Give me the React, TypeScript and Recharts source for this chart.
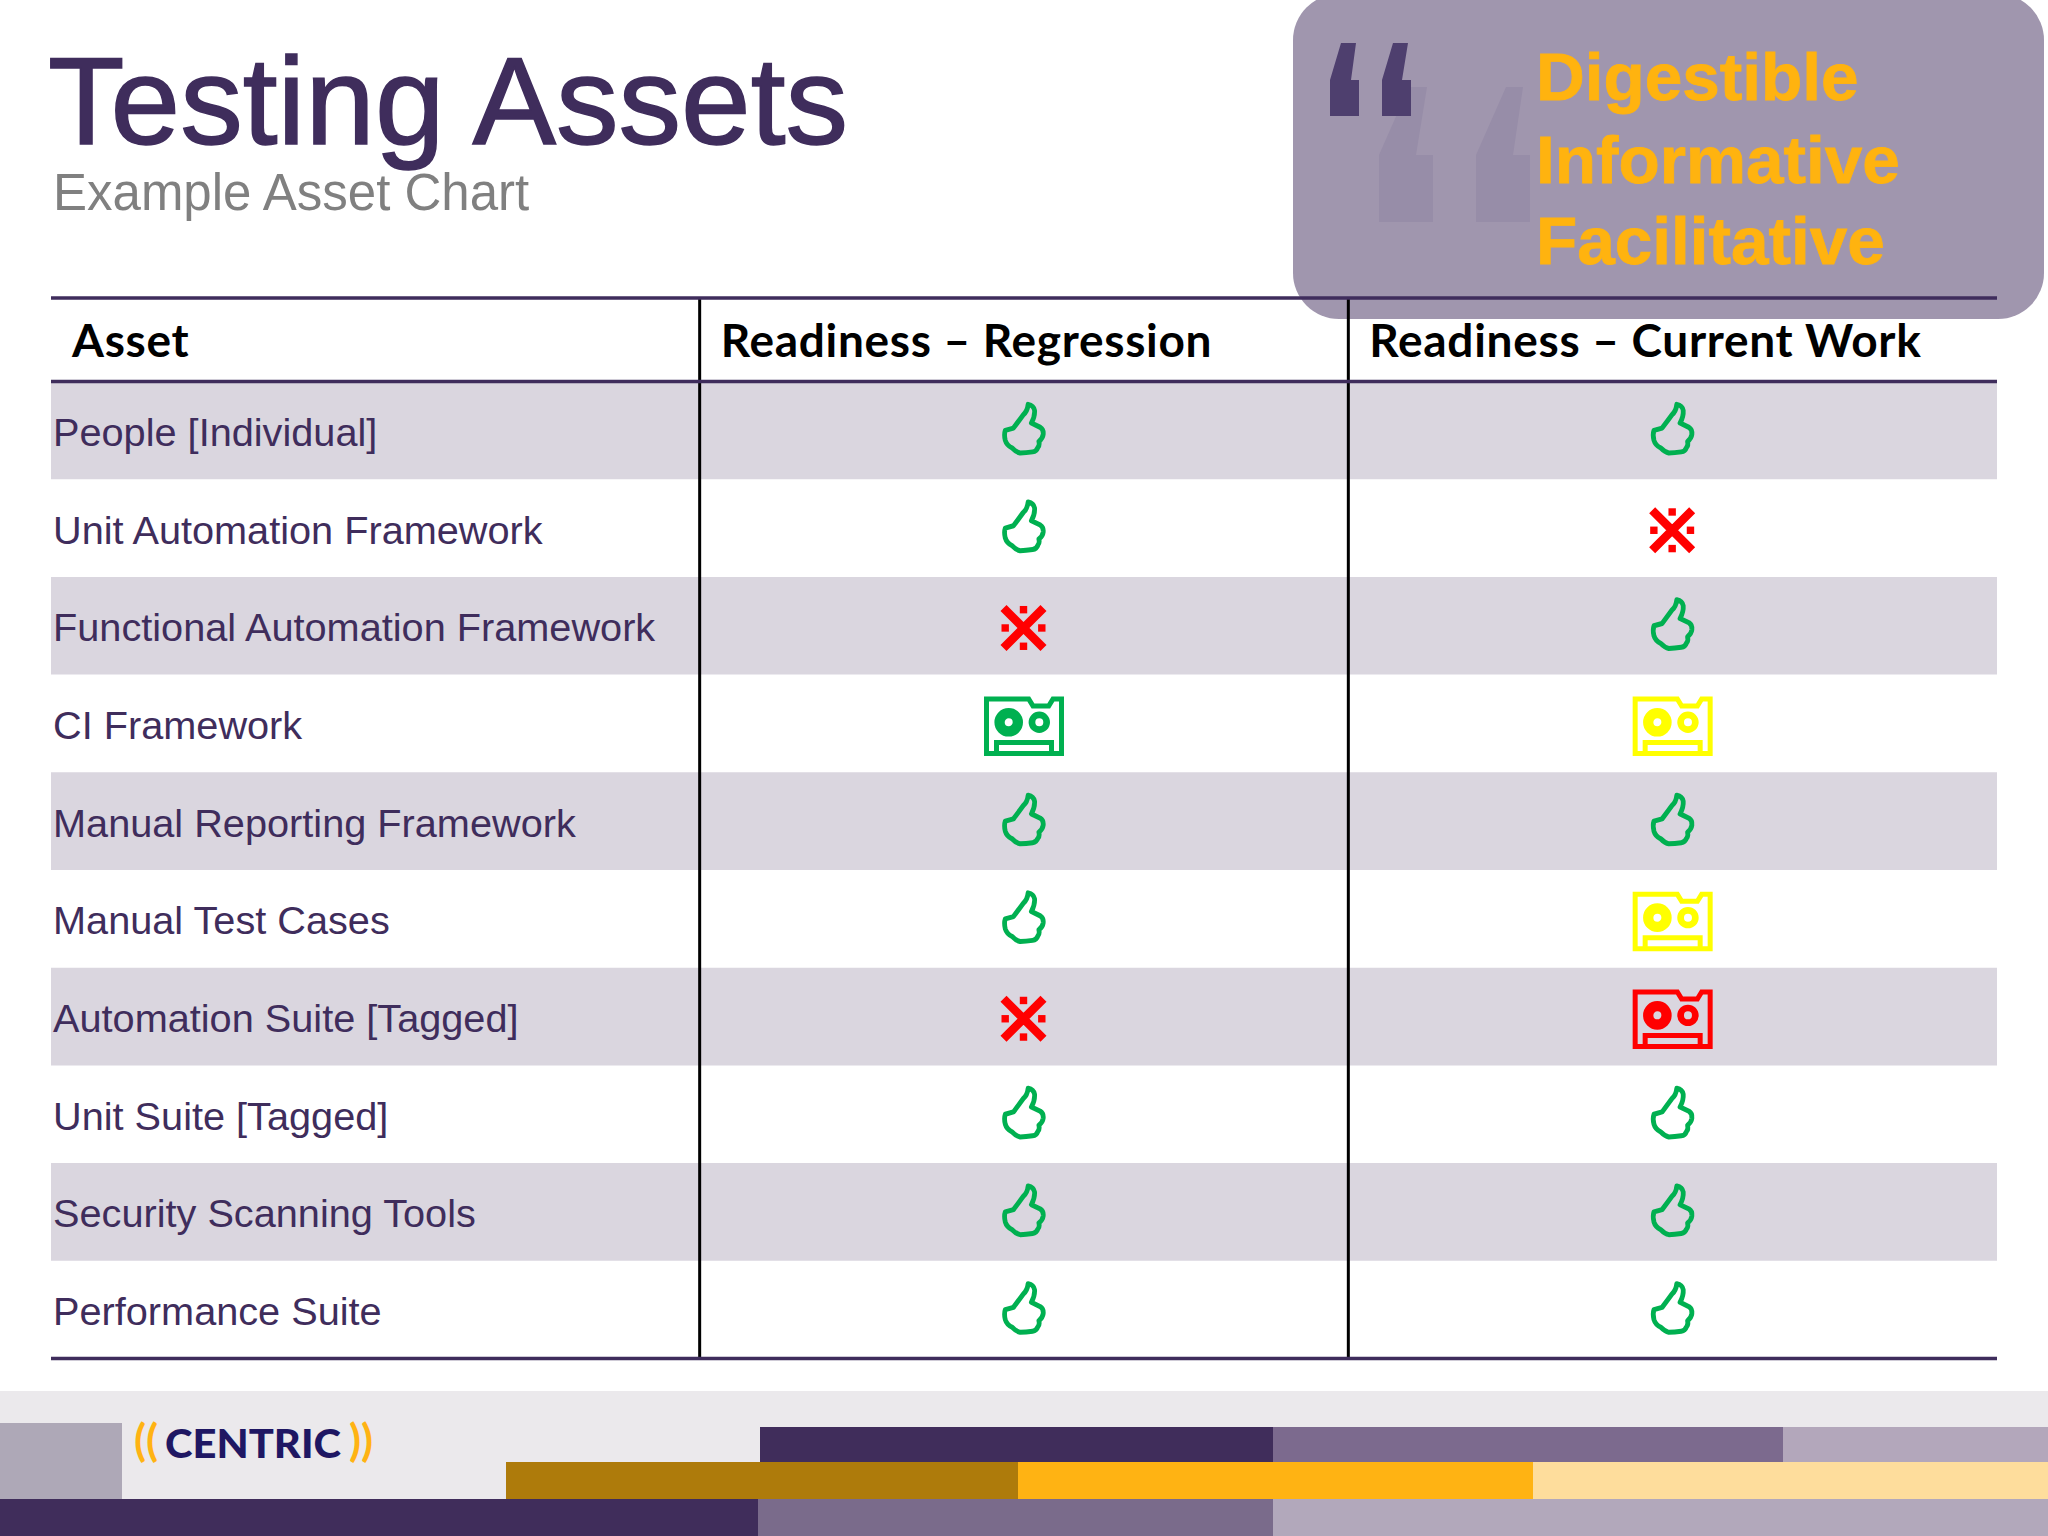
import React from "react";
import { ScatterChart, Scatter, XAxis, YAxis, ReferenceArea, ReferenceLine } from "recharts";

const assets = [
  "People [Individual]",
  "Unit Automation Framework",
  "Functional Automation Framework",
  "CI Framework",
  "Manual Reporting Framework",
  "Manual Test Cases",
  "Automation Suite [Tagged]",
  "Unit Suite [Tagged]",
  "Security Scanning Tools",
  "Performance Suite",
];
const columns = ["Asset", "Readiness – Regression", "Readiness – Current Work"];
const regression = ["up", "up", "x", "tapeGreen", "up", "up", "x", "up", "up", "up"];
const current = ["up", "x", "up", "tapeYellow", "up", "tapeYellow", "tapeRed", "up", "up", "up"];
const callout = ["Digestible", "Informative", "Facilitative"];

const rowTicks = assets.map((_, i) => i + 0.5);
const columnTicks = columns.map((_, i) => i);
const stripeRows = assets.map((_, i) => i).filter((i) => i % 2 === 0);
const regressionPoints = regression.map((status, i) => ({ x: 1.5, y: i + 0.5, status }));
const currentPoints = current.map((status, i) => ({ x: 2.5, y: i + 0.5, status }));

const PURPLE = "#3f2d5c";
const GREEN = "#00b050";
const RED = "#ff0000";
const YELLOW = "#ffff00";
const SANS = "'Liberation Sans', Arial, sans-serif";
const HEADER_TOP = -0.855;

const Thumb = ({ cx, cy }: { cx: number; cy: number }) => (
  <path
    transform={`translate(${cx},${cy + 1}) scale(0.96,1)`}
    d="M4.3,-27 Q10,-26 11,-21 Q11.5,-15 7.7,-8.3 L17,-4 Q20.5,-2 20,3 Q19.5,7 15.5,10 Q16.5,14 14.5,16 Q13,20 9,20.5 Q2,21.5 -4,21.7 Q-8,21 -12.3,16.7 Q-18,14 -19.5,9 Q-21,3 -19.5,-1 L-11,-3.3 Q-5,-11 -0.7,-16.7 Q3.5,-20 4.3,-27 Z"
    fill="none"
    stroke={GREEN}
    strokeWidth={5}
    strokeLinejoin="round"
  />
);

const Blocked = ({ cx, cy }: { cx: number; cy: number }) => (
  <g transform={`translate(${cx - 0.5},${cy + 2.2})`} fill={RED}>
    <path d="M-20,-20 L20,20 M20,-20 L-20,20" stroke={RED} strokeWidth={8.5} strokeLinecap="butt" />
    <rect x={-3.7} y={-22} width={7.4} height={7.4} />
    <rect x={-3.7} y={14.6} width={7.4} height={7.4} />
    <rect x={-22} y={-3.7} width={7.4} height={7.4} />
    <rect x={14.6} y={-3.7} width={7.4} height={7.4} />
  </g>
);

const Tape = ({ cx, cy, color }: { cx: number; cy: number; color: string }) => (
  <g transform={`translate(${cx},${cy + 2.5})`} fill="none" stroke={color} strokeWidth={5}>
    <path d="M-37.5,-27 H4.7 L9,-20 H24.7 L29,-27 H37.5 V27.5 H-37.5 Z" />
    <path d="M-27.5,27.5 V16.5 H27.5 V27.5" />
    <circle cx={-15.3} cy={-3.7} r={9.15} strokeWidth={10.3} />
    <circle cx={15.3} cy={-3.7} r={7.35} strokeWidth={6.7} />
  </g>
);

const StatusMark = (props: any) => {
  const { cx, cy, payload } = props;
  switch (payload.status) {
    case "up":
      return <Thumb cx={cx} cy={cy} />;
    case "x":
      return <Blocked cx={cx} cy={cy} />;
    case "tapeGreen":
      return <Tape cx={cx} cy={cy} color={GREEN} />;
    case "tapeYellow":
      return <Tape cx={cx} cy={cy} color={YELLOW} />;
    default:
      return <Tape cx={cx} cy={cy} color={RED} />;
  }
};

const RowTick = (props: any) => {
  const { y, payload } = props;
  return (
    <text x={53} y={y + 15.5} fontFamily={SANS} fontSize={39.7} fill={PURPLE} textAnchor="start">
      {assets[Math.floor(payload.value)]}
    </text>
  );
};

const ColumnTick = (props: any) => {
  const { x, payload } = props;
  return (
    <text x={x + 21} y={357} fontFamily="Lato, sans-serif" fontWeight={700} fontSize={46} letterSpacing={0.7} fill="#000" textAnchor="start">
      {columns[payload.value]}
    </text>
  );
};

const Backdrop = () => (
  <svg width={2048} height={1536} style={{ position: "absolute", left: 0, top: 0 }}>
    <text x={48} y={144} fontFamily={SANS} fontSize={124} fill={PURPLE} stroke={PURPLE} strokeWidth={1.5} textLength={800} lengthAdjust="spacingAndGlyphs">
      Testing Assets
    </text>
    <text x={53} y={210} fontFamily={SANS} fontSize={51} fill="#808080">
      Example Asset Chart
    </text>

    <rect x={1293} y={-6} width={751} height={325} rx={46} fill="#a096ae" />
    <g fill="#978da8">
      <path d="M1409,87 H1427 L1416,155 H1433 V222 H1379 V155 Z" />
      <path d="M1506,87 H1523 L1513,155 H1530 V222 H1476 V155 Z" />
    </g>
    <g fill="#4e3f6e">
      <path d="M1341,43 H1356 L1351,80 H1359 V116 H1330 V80 Z" />
      <path d="M1393,43 H1408 L1402,80 H1411 V116 H1382 V80 Z" />
    </g>
    {callout.map((line, i) => (
      <text key={line} x={1536} y={[100, 183, 264][i]} fontFamily={SANS} fontWeight={700} fontSize={67.5} fill="#ffb30f" stroke="#ffb30f" strokeWidth={0.8}>
        {line}
      </text>
    ))}

    <rect x={0} y={1391} width={2048} height={145} fill="#ebe9ec" />
    <rect x={0} y={1423} width={122} height={76} fill="#aea8b7" />
    <rect x={760} y={1427} width={513} height={35} fill="#402d5b" />
    <rect x={1273} y={1427} width={510} height={35} fill="#7c6a8e" />
    <rect x={1783} y={1427} width={265} height={35} fill="#b3a7bb" />
    <rect x={506} y={1462} width={512} height={37} fill="#ae7b0b" />
    <rect x={1018} y={1462} width={515} height={37} fill="#ffb313" />
    <rect x={1533} y={1462} width={515} height={37} fill="#fedd9c" />
    <rect x={0} y={1499} width={758} height={37} fill="#402d5b" />
    <rect x={758} y={1499} width={515} height={37} fill="#7a6b8b" />
    <rect x={1273} y={1499} width={775} height={37} fill="#b2a8bb" />

    <text x={134} y={1456} fontFamily="Lato, sans-serif" fontWeight={700} fontSize={44} fill="#ffb313">((</text>
    <text x={165} y={1458} fontFamily="Lato, sans-serif" fontWeight={900} fontSize={39} fill="#1f1763" textLength={176} lengthAdjust="spacingAndGlyphs">CENTRIC</text>
    <text x={349} y={1456} fontFamily="Lato, sans-serif" fontWeight={700} fontSize={44} fill="#ffb313">))</text>
  </svg>
);

export default function App() {
  return (
    <div style={{ position: "absolute", left: 0, top: 0, width: 2048, height: 1536, overflow: "hidden", background: "#fff" }}>
      <Backdrop />
      <div style={{ position: "absolute", left: 0, top: 0 }}>
        <ScatterChart width={2048} height={1536} margin={{ top: 297, right: 51, bottom: 177.5, left: 50 }}>
          <XAxis
            type="number"
            dataKey="x"
            xAxisId={0}
            orientation="top"
            domain={[0, 3]}
            ticks={columnTicks}
            interval={0}
            height={1}
            axisLine={false}
            tickLine={false}
            tick={<ColumnTick />}
          />
          <YAxis
            type="number"
            dataKey="y"
            yAxisId={0}
            domain={[HEADER_TOP, 10]}
            ticks={rowTicks}
            interval={0}
            reversed
            width={1}
            axisLine={false}
            tickLine={false}
            tick={<RowTick />}
          />
          {stripeRows.map((i) => (
            <ReferenceArea key={i} x1={0} x2={3} y1={i} y2={i + 1} fill="#dad6df" fillOpacity={1} stroke="none" />
          ))}
          <ReferenceLine x={1} stroke="#000" strokeWidth={3} />
          <ReferenceLine x={2} stroke="#000" strokeWidth={3} />
          <ReferenceLine y={HEADER_TOP} stroke={PURPLE} strokeWidth={3.5} />
          <ReferenceLine y={0} stroke={PURPLE} strokeWidth={3.5} />
          <ReferenceLine y={10} stroke={PURPLE} strokeWidth={3.5} />
          <Scatter data={regressionPoints} shape={StatusMark} isAnimationActive={false} />
          <Scatter data={currentPoints} shape={StatusMark} isAnimationActive={false} />
        </ScatterChart>
      </div>
    </div>
  );
}
